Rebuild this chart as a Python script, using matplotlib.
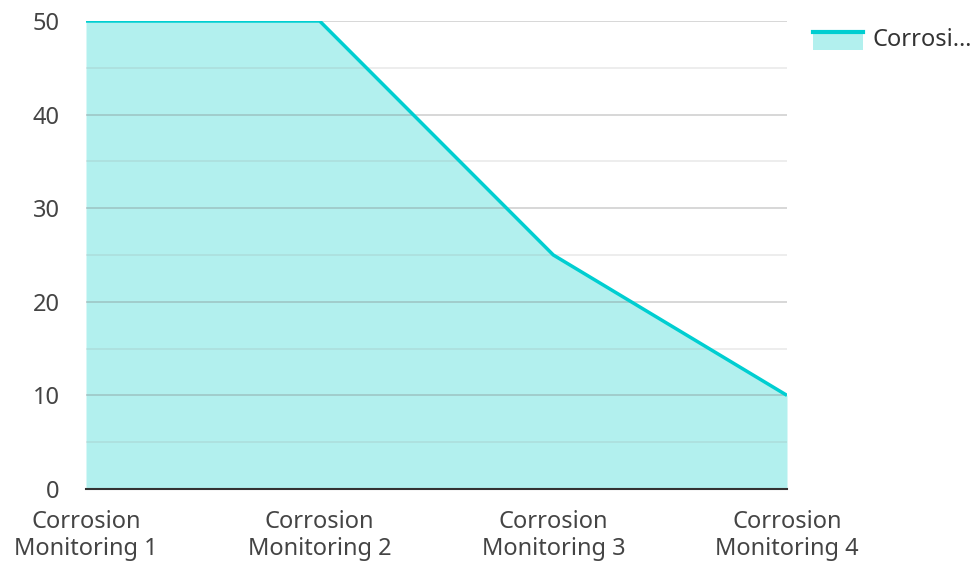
import matplotlib.pyplot as plt
from matplotlib.patches import Rectangle
from matplotlib.lines import Line2D
from matplotlib.legend_handler import HandlerBase

plt.rcParams['font.family'] = ['Noto Sans', 'DejaVu Sans']

categories = ["Corrosion\nMonitoring 1", "Corrosion\nMonitoring 2",
              "Corrosion\nMonitoring 3", "Corrosion\nMonitoring 4"]
values = [50, 50, 25, 10]
series_name = "Corrosi\u2026"

line_col = "#00CED1"
fill_col = "#B2F0EE"


class AreaHandler(HandlerBase):
    # line on top of a filled box, like the original legend swatch
    def create_artists(self, legend, orig_handle, xdescent, ydescent,
                       width, height, fontsize, trans):
        top = height * 0.85 - ydescent
        box = Rectangle((-xdescent, -ydescent - height * 0.25), width,
                        top + ydescent + height * 0.25,
                        facecolor=fill_col, edgecolor='none', transform=trans)
        ln = Line2D([-xdescent, -xdescent + width], [top, top],
                    color=line_col, lw=3, transform=trans)
        return [box, ln]


fig = plt.figure(figsize=(9.77, 5.64), dpi=100)
ax = fig.add_axes([86 / 977, 1 - 489 / 564, (787 - 86) / 977, (489 - 21) / 564])

x = list(range(len(values)))
ax.fill_between(x, values, 0, color=fill_col, lw=0, zorder=1)
ax.plot(x, values, color=line_col, lw=2.5, zorder=3, solid_capstyle='butt')

ax.set_xlim(0, len(values) - 1)
ax.set_ylim(0, 50)
ax.set_yticks(range(0, 51, 10))
ax.set_yticks(range(5, 50, 10), minor=True)
ax.grid(axis='y', which='major', color='#7a7a7a', alpha=0.35, lw=1.2, zorder=2)
ax.grid(axis='y', which='minor', color='#9a9a9a', alpha=0.2, lw=1.2, zorder=2)
ax.set_axisbelow(False)

ax.set_xticks(x)
ax.set_xticklabels(categories, linespacing=1.15)
for s in ['top', 'right', 'left']:
    ax.spines[s].set_visible(False)
ax.spines['bottom'].set_color('#333333')
ax.spines['bottom'].set_linewidth(1.5)
ax.spines['bottom'].set_zorder(4)
ax.tick_params(axis='both', which='both', length=0, labelsize=17, colors='#444444')
ax.tick_params(axis='y', pad=19)
ax.tick_params(axis='x', pad=15)

leg = fig.legend([object()], [series_name], loc='upper left',
                 bbox_to_anchor=(792 / 977, 1 - 7 / 564), frameon=False,
                 fontsize=17, handlelength=2.1, handleheight=0.7,
                 handletextpad=0.4,
                 handler_map={object: AreaHandler()})
for t in leg.get_texts():
    t.set_color('#333333')

fig.savefig("out.png", dpi=100)
